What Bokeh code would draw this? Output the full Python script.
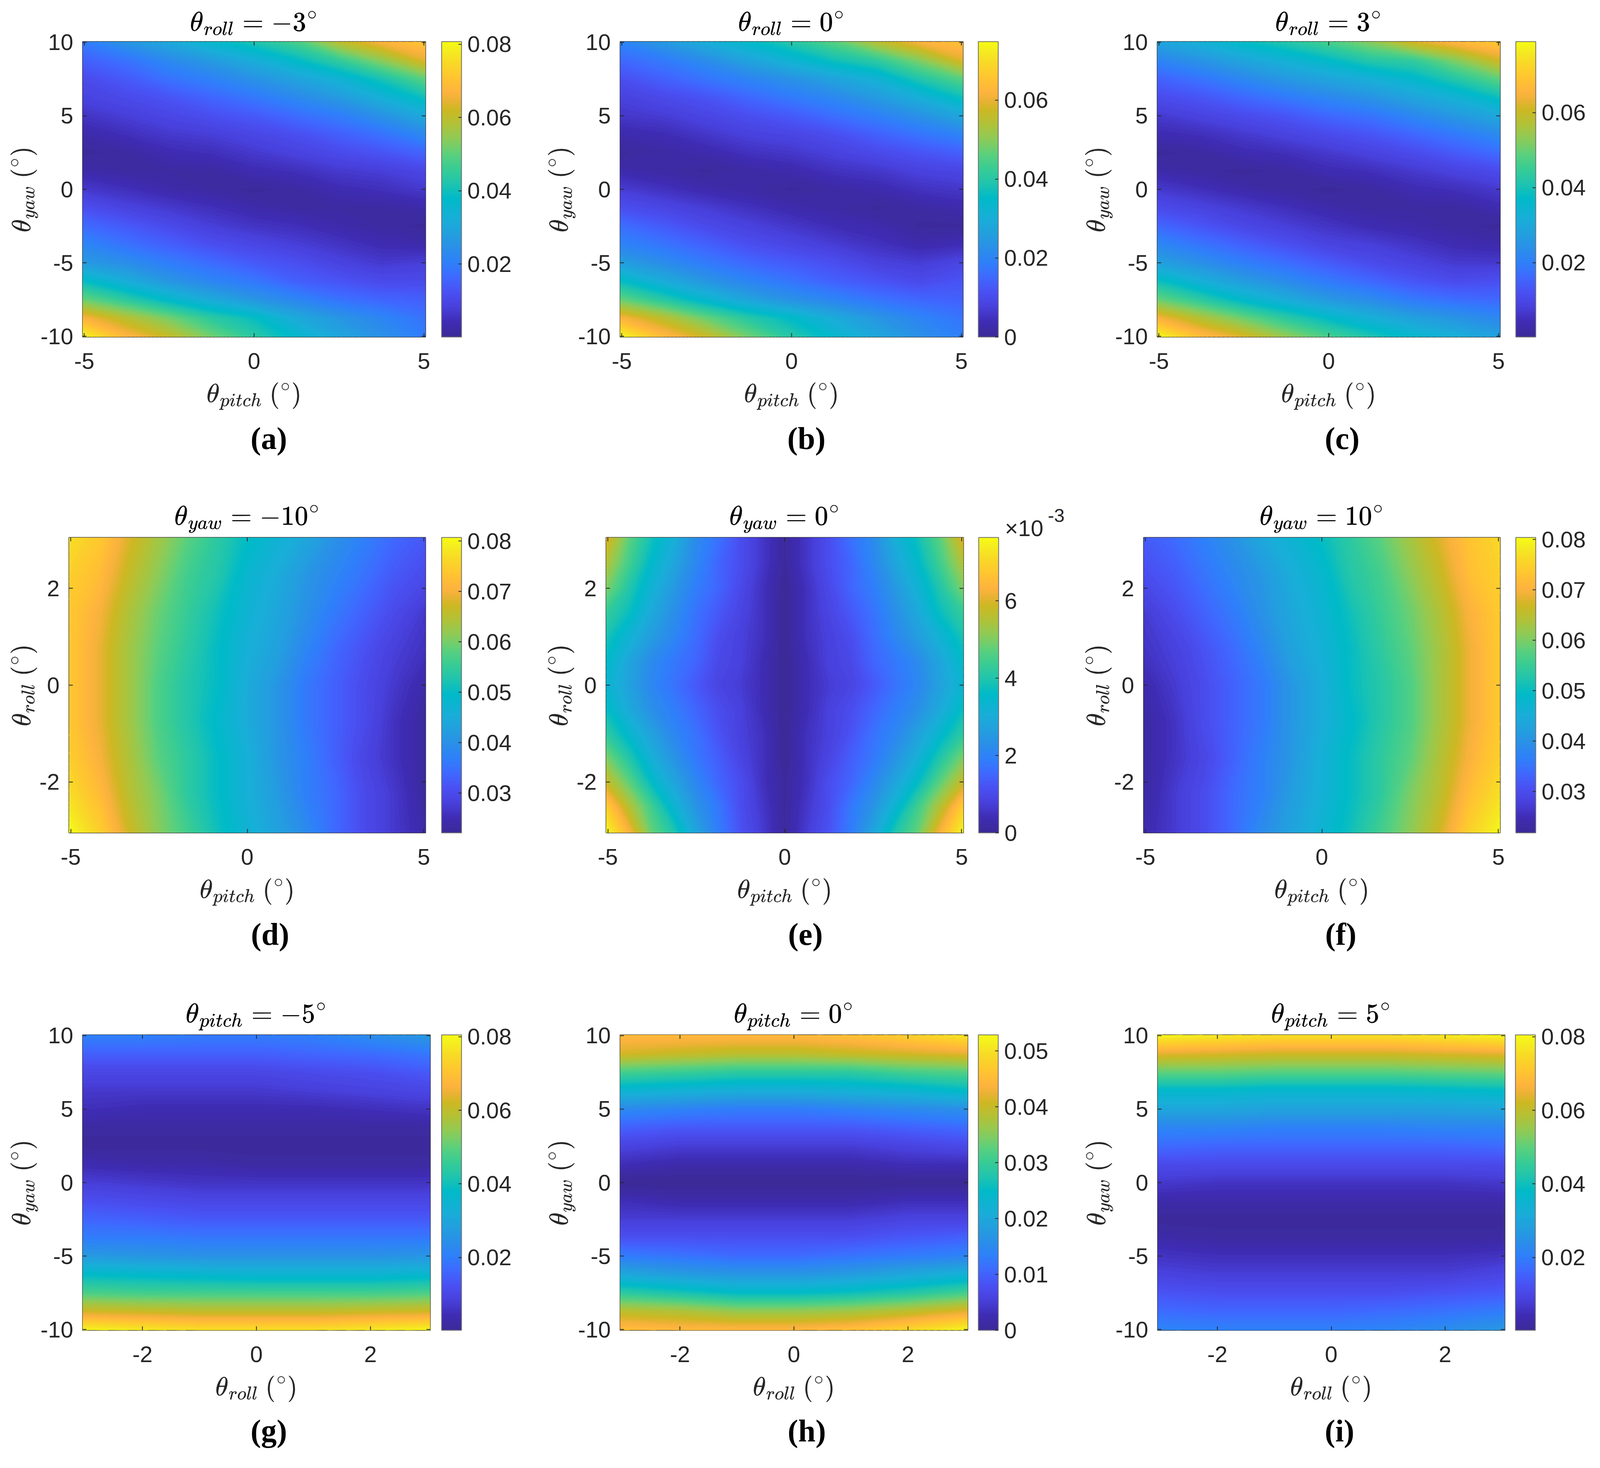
import numpy as np
from bokeh.embed import file_html
from bokeh.layouts import column, row
from bokeh.models import ColorBar, FixedTicker, Label, LinearColorMapper, Range1d, Title
from bokeh.plotting import figure
from bokeh.resources import INLINE

# --- grids the maps were read on (degrees), first and last point sit on the frame edge ---
pitch_9 = [-5.05, -3.75, -2.5, -1.25, 0, 1.25, 2.5, 3.75, 5.05]
pitch_13 = [-5.05, -4.1667, -3.3333, -2.5, -1.6667, -0.8333, 0, 0.8333, 1.6667, 2.5, 3.3333, 4.1667, 5.05]
pitch_17 = [-5.05, -4.375, -3.75, -3.125, -2.5, -1.875, -1.25, -0.625, 0, 0.625, 1.25, 1.875, 2.5, 3.125, 3.75, 4.375, 5.05]
roll_7 = [-3.05, -2, -1, 0, 1, 2, 3.05]
roll_9 = [3.05, 2.25, 1.5, 0.75, 0, -0.75, -1.5, -2.25, -3.05]
roll_13 = [3.05, 2.5, 2, 1.5, 1, 0.5, 0, -0.5, -1, -1.5, -2, -2.5, -3.05]
yaw_17 = [10.05, 8.75, 7.5, 6.25, 5, 3.75, 2.5, 1.25, 0, -1.25, -2.5, -3.75, -5, -6.25, -7.5, -8.75, -10.05]

# --- map values in units of 1e-3, rows top to bottom ---
map_a = [
    [20, 26, 31, 37, 42, 48, 60, 67, 71],
    [15, 18, 23, 27, 32, 38, 45, 54, 64],
    [11, 14, 18, 21, 25, 29, 34, 41, 50],
    [9, 11, 13, 16, 19, 23, 27, 33, 40],
    [6, 8, 10, 12, 14, 17, 20, 25, 31],
    [3, 5, 7, 8, 10, 12, 15, 18, 23],
    [1, 2, 4, 5, 7, 9, 11, 13, 16],
    [3, 2, 2, 2, 4, 5, 7, 8, 10],
    [7, 5, 3, 2, 1, 2, 4, 5, 7],
    [12, 9, 7, 5, 3, 2, 2, 2, 3],
    [17, 14, 11, 8, 6, 5, 3, 2, 1],
    [22, 18, 15, 12, 10, 8, 6, 4, 3],
    [27, 24, 20, 17, 14, 12, 9, 7, 8],
    [39, 32, 26, 22, 19, 15, 13, 11, 11],
    [51, 44, 37, 31, 26, 22, 18, 16, 15],
    [67, 59, 52, 44, 39, 31, 26, 22, 18],
    [80, 68, 61, 52, 44, 37, 30, 25, 20],
]
map_b = [
    [20, 25, 30, 35, 40, 46, 55, 62, 65],
    [15, 18, 22, 27, 32, 37, 41, 49, 59],
    [11, 14, 17, 20, 23, 27, 31, 39, 46],
    [8, 10, 12, 15, 18, 21, 25, 30, 37],
    [6, 7, 9, 11, 13, 16, 19, 23, 28],
    [3, 4, 6, 8, 9, 11, 14, 17, 20],
    [1, 2, 3, 5, 6, 8, 10, 12, 14],
    [3, 2, 1, 2, 3, 5, 6, 8, 9],
    [7, 5, 3, 2, 1, 2, 3, 5, 6],
    [11, 9, 7, 5, 3, 2, 1, 2, 3],
    [16, 13, 10, 8, 6, 4, 3, 1, 1],
    [20, 17, 14, 11, 9, 7, 5, 3, 4],
    [26, 22, 18, 15, 13, 11, 8, 7, 9],
    [36, 29, 24, 20, 17, 14, 12, 10, 12],
    [47, 40, 33, 27, 23, 20, 17, 15, 14],
    [62, 55, 47, 40, 35, 29, 24, 20, 17],
    [75, 64, 57, 48, 40, 34, 28, 23, 19],
]
map_c = [
    [29, 33, 38, 42, 47, 53, 62, 67, 70],
    [21, 25, 29, 33, 37, 42, 44, 52, 61],
    [15, 18, 22, 26, 29, 32, 36, 42, 49],
    [11, 13, 16, 19, 22, 25, 29, 33, 39],
    [7, 9, 11, 13, 16, 18, 22, 26, 30],
    [4, 5, 7, 9, 11, 13, 16, 19, 23],
    [1, 2, 4, 5, 7, 9, 11, 14, 17],
    [3, 2, 1, 2, 4, 5, 7, 9, 11],
    [7, 5, 3, 2, 1, 2, 4, 5, 7],
    [11, 9, 7, 5, 3, 2, 2, 2, 4],
    [16, 13, 10, 8, 6, 4, 3, 2, 1],
    [22, 18, 15, 12, 9, 8, 6, 4, 3],
    [28, 24, 20, 17, 14, 11, 9, 7, 7],
    [39, 32, 27, 23, 19, 16, 13, 11, 12],
    [50, 43, 36, 31, 26, 23, 19, 17, 16],
    [65, 57, 50, 43, 37, 32, 28, 25, 22],
    [79, 68, 62, 54, 47, 41, 36, 32, 28],
]
map_d = [
    [77, 74, 68, 63, 58, 54, 50, 47, 44, 40, 37, 34, 32],
    [75, 72, 66, 61, 56, 53, 48, 45, 41, 38, 35, 32, 30],
    [74, 70, 64, 59, 55, 51, 47, 44, 40, 36, 33, 30, 27],
    [74, 69, 63, 58, 54, 50, 46, 43, 38, 34, 31, 28, 26],
    [74, 69, 63, 57, 53, 50, 45, 41, 36, 33, 30, 27, 24],
    [74, 69, 63, 57, 53, 49, 45, 41, 36, 33, 30, 26, 23],
    [75, 70, 64, 58, 54, 50, 46, 41, 37, 33, 29, 26, 23],
    [77, 72, 65, 60, 54, 50, 46, 42, 37, 34, 30, 27, 23],
    [81, 75, 67, 61, 56, 51, 47, 43, 39, 34, 30, 27, 24],
]
map_e = [
    [6.1, 4.7, 3.8, 3.1, 2.2, 1.7, 1.1, 0.6, 0.1, 0.6, 1.1, 1.7, 2.2, 3.1, 3.8, 4.7, 6.1],
    [5.5, 4.4, 3.5, 2.8, 2.1, 1.5, 1.1, 0.6, 0.1, 0.6, 1.1, 1.5, 2.1, 2.8, 3.5, 4.4, 5.5],
    [5.0, 4.0, 3.2, 2.5, 1.9, 1.5, 1.0, 0.5, 0.0, 0.5, 1.0, 1.5, 1.9, 2.5, 3.2, 4.0, 5.0],
    [4.3, 3.7, 2.9, 2.3, 1.7, 1.3, 0.9, 0.5, 0.0, 0.5, 0.9, 1.3, 1.7, 2.3, 2.9, 3.7, 4.3],
    [3.9, 3.2, 2.6, 2.1, 1.6, 1.1, 0.8, 0.5, 0.0, 0.5, 0.8, 1.1, 1.6, 2.1, 2.6, 3.2, 3.9],
    [3.6, 2.8, 2.2, 1.8, 1.5, 1.0, 0.8, 0.4, 0.0, 0.4, 0.8, 1.0, 1.5, 1.8, 2.2, 2.8, 3.6],
    [3.4, 2.7, 2.1, 1.7, 1.3, 0.9, 0.7, 0.4, 0.0, 0.4, 0.7, 0.9, 1.3, 1.7, 2.1, 2.7, 3.4],
    [3.7, 2.9, 2.3, 1.9, 1.5, 1.1, 0.8, 0.4, 0.0, 0.4, 0.8, 1.1, 1.5, 1.9, 2.3, 2.9, 3.7],
    [4.2, 3.4, 2.7, 2.1, 1.7, 1.2, 0.8, 0.5, 0.0, 0.5, 0.8, 1.2, 1.7, 2.1, 2.7, 3.4, 4.2],
    [5.0, 4.0, 3.1, 2.4, 1.8, 1.4, 0.9, 0.5, 0.0, 0.5, 0.9, 1.4, 1.8, 2.4, 3.1, 4.0, 5.0],
    [5.8, 4.7, 3.6, 2.8, 2.1, 1.5, 1.1, 0.5, 0.1, 0.5, 1.1, 1.5, 2.1, 2.8, 3.6, 4.7, 5.8],
    [6.9, 5.5, 4.4, 3.3, 2.4, 1.8, 1.1, 0.6, 0.1, 0.6, 1.1, 1.8, 2.4, 3.3, 4.4, 5.5, 6.9],
    [7.6, 6.3, 4.8, 4.0, 2.8, 1.9, 1.2, 0.7, 0.1, 0.7, 1.2, 1.9, 2.8, 4.0, 4.8, 6.3, 7.6],
]
map_f = [
    [32, 34, 37, 40, 44, 47, 50, 54, 58, 63, 68, 73, 76],
    [30, 32, 35, 38, 41, 45, 48, 53, 56, 61, 66, 72, 75],
    [27, 30, 33, 36, 40, 44, 47, 51, 55, 59, 64, 70, 74],
    [26, 28, 31, 34, 38, 43, 46, 50, 54, 58, 63, 69, 74],
    [24, 27, 30, 33, 36, 41, 45, 50, 53, 57, 63, 69, 74],
    [23, 26, 30, 33, 36, 41, 45, 49, 53, 57, 63, 69, 74],
    [23, 26, 29, 33, 37, 41, 46, 50, 54, 58, 64, 70, 75],
    [23, 27, 30, 34, 37, 42, 46, 50, 54, 60, 65, 72, 77],
    [24, 27, 30, 34, 39, 43, 47, 51, 56, 61, 67, 75, 80],
]
map_g = [
    [21, 21, 20, 20, 21, 24, 27],
    [15, 15, 15, 15, 16, 17, 19],
    [10, 10, 10, 10, 11, 12, 14],
    [7, 7, 7, 7, 8, 9, 10],
    [5, 4, 4, 4, 4, 5, 6],
    [2, 2, 2, 2, 2, 2, 2],
    [1, 1, 1, 1, 1, 1, 1],
    [4, 3, 3, 2, 2, 2, 2],
    [8, 7, 6, 6, 6, 6, 6],
    [12, 11, 10, 10, 10, 10, 10],
    [16, 15, 14, 14, 14, 14, 14],
    [20, 20, 19, 19, 19, 19, 19],
    [27, 26, 25, 25, 25, 25, 26],
    [38, 37, 36, 35, 35, 35, 36],
    [48, 47, 47, 47, 47, 47, 48],
    [62, 61, 60, 60, 60, 61, 62],
    [80, 78, 76, 76, 76, 78, 80],
]
map_h = [
    [45, 45, 45, 45, 46, 48, 51],
    [41, 40, 39, 39, 40, 41, 42],
    [31, 30, 29, 29, 29, 31, 32],
    [23, 22, 21, 21, 22, 23, 25],
    [15, 14, 13, 13, 14, 15, 16],
    [10, 9, 9, 9, 9, 10, 11],
    [6, 5, 5, 5, 5, 6, 7],
    [3, 2, 2, 2, 2, 3, 3],
    [0, 0, 0, 0, 0, 0, 0],
    [3, 2, 2, 2, 2, 3, 3],
    [5, 5, 5, 5, 5, 6, 6],
    [8, 8, 8, 8, 8, 9, 10],
    [13, 12, 11, 11, 12, 13, 14],
    [20, 18, 17, 17, 18, 20, 22],
    [29, 27, 25, 25, 26, 28, 31],
    [39, 38, 36, 36, 37, 39, 42],
    [46, 45, 45, 45, 46, 49, 53],
]
map_i = [
    [80, 78, 76, 76, 76, 78, 80],
    [64, 63, 62, 62, 62, 63, 64],
    [50, 50, 49, 49, 49, 50, 51],
    [37, 37, 36, 36, 36, 37, 38],
    [30, 30, 29, 29, 29, 29, 30],
    [22, 22, 21, 21, 21, 22, 22],
    [17, 16, 16, 16, 16, 16, 17],
    [11, 11, 11, 11, 11, 11, 11],
    [7, 6, 6, 6, 6, 6, 7],
    [3, 3, 3, 3, 3, 3, 3],
    [1, 1, 1, 1, 1, 1, 1],
    [3, 2, 2, 2, 2, 2, 2],
    [6, 5, 5, 5, 5, 5, 6],
    [9, 8, 8, 8, 8, 8, 10],
    [13, 12, 12, 12, 12, 13, 14],
    [17, 16, 16, 16, 17, 18, 20],
    [22, 21, 21, 21, 22, 24, 27],
]

# colour limits and colourbar ticks, same units
clims = dict(a=(0.1, 80.7), b=(0, 74.8), c=(0.2, 78.9), d=(22.1, 80.7), e=(0, 7.64), f=(21.8, 80.4),
             g=(0.2, 80.5), h=(0, 52.9), i=(0.2, 80.5))
cbar_ticks = dict(a=[20, 40, 60, 80], b=[0, 20, 40, 60], c=[20, 40, 60], d=[30, 40, 50, 60, 70, 80],
                  e=[0, 2, 4, 6], f=[30, 40, 50, 60, 70, 80], g=[20, 40, 60, 80],
                  h=[0, 10, 20, 30, 40, 50], i=[20, 40, 60, 80])

# parula as it looks in this figure
stops = [0, .05, .10, .15, .20, .25, .30, .35, .40, .47, .52, .57, .62, .67, .72, .77, .80, .83, .88, .93, .97, 1]
stop_colors = ["#3b2a98", "#3f2cb4", "#4840dc", "#4a50f2", "#3f68ff", "#2f7ffa", "#2a8fe8", "#22a0de", "#18aed8",
               "#00bac8", "#1fc4ae", "#38cc94", "#5cd07c", "#8ccb58", "#b0c238", "#cdb822", "#e8b233", "#feb33e",
               "#ffc530", "#f8d926", "#f5ec20", "#f6fb14"]
rgb = np.array([[int(c[i:i + 2], 16) for i in (1, 3, 5)] for c in stop_colors])
palette = ["#%02x%02x%02x" % tuple(int(round(np.interp(v, stops, rgb[:, k]))) for k in range(3))
           for v in np.linspace(0, 1, 256)]

# the browser photo comes back 4096 wide, so squeeze the layout a bit in x
SX = 0.956
SY = 0.998
N_LEVELS = 121
TICK_FONT = "Liberation Sans"
DARK = "#262626"
PITCH = r"$$\theta_{pitch}\ (^\circ)$$"
ROLL = r"$$\theta_{roll}\ (^\circ)$$"
YAW = r"$$\theta_{yaw}\ (^\circ)$$"


def panel(name, values, xs, ys, xticks, yticks, xlabel, ylabel, title,
          left, frame_w, right, top, frame_h, bottom, gap, tag_x):
    left, frame_w, right = round(left * SX), round(frame_w * SX), round(right * SX)
    top, frame_h, bottom = round(top * SY), round(frame_h * SY), round(bottom * SY)
    xlim = max(xs)
    ylim = max(ys)
    p = figure(width=left + frame_w + right, height=top + frame_h + bottom,
               x_range=Range1d(-xlim, xlim), y_range=Range1d(-ylim, ylim),
               output_backend="svg", toolbar_location=None,
               min_border_left=left, min_border_right=right, min_border_top=top, min_border_bottom=bottom,
               background_fill_color="white", border_fill_color="white")
    p.grid.visible = False
    p.outline_line_color = DARK
    p.outline_line_width = 2

    # many thin contour bands so the map reads as continuous
    low, high = clims[name]
    arr = np.clip(np.flipud(np.array(values, dtype=float)), low + 1e-4 * (high - low), high - 1e-4 * (high - low))
    levels = np.linspace(low, high, N_LEVELS)
    band_colors = [palette[int(round(k))] for k in np.linspace(0, 255, N_LEVELS - 1)]
    line_colors = [palette[int(round(k))] for k in np.linspace(0, 255, N_LEVELS)]
    p.contour(sorted(xs), sorted(ys), arr, levels, fill_color=band_colors, line_color=line_colors, line_width=1.5)

    p.title.text = title
    p.title.align = "center"
    p.title.text_font_size = "60px"
    p.title.text_font_style = "normal"
    p.title.text_color = "black"
    p.title.standoff = 23

    for ax, ticks, label in ((p.xaxis[0], xticks, xlabel), (p.yaxis[0], yticks, ylabel)):
        ax.ticker = FixedTicker(ticks=ticks)
        ax.major_label_overrides = {v: str(v) for v in ticks}  # plain hyphen, as matlab prints it
        ax.axis_label = label
        ax.axis_label_text_font_size = "57px"
        ax.axis_label_text_color = DARK
        ax.major_label_text_font = TICK_FONT
        ax.major_label_text_font_size = "58px"
        ax.major_label_text_color = DARK
        ax.major_tick_in = 10
        ax.major_tick_out = 0
        ax.minor_tick_line_color = None
        ax.major_tick_line_color = DARK
        ax.major_tick_line_width = 2
        ax.axis_line_color = None
    p.xaxis[0].major_label_standoff = 41
    p.yaxis[0].major_label_standoff = 24
    p.xaxis[0].axis_label_standoff = 32
    p.yaxis[0].axis_label_standoff = 3

    # matlab box: same ticks on the top and right edges
    tick_x = 2 * xlim * 10 / frame_w
    tick_y = 2 * ylim * 10 / frame_h
    p.segment(x0=xticks, y0=[ylim] * len(xticks), x1=xticks, y1=[ylim - tick_y] * len(xticks),
              line_color=DARK, line_width=2)
    p.segment(x0=[xlim] * len(yticks), y0=yticks, x1=[xlim - tick_x] * len(yticks), y1=yticks,
              line_color=DARK, line_width=2)

    mapper = LinearColorMapper(palette=palette, low=low, high=high)
    labels = {v: (str(v) if name == "e" else f"{v / 1000:g}") for v in cbar_ticks[name]}
    cb = ColorBar(color_mapper=mapper, ticker=FixedTicker(ticks=cbar_ticks[name]), major_label_overrides=labels,
                  width=round(53 * SX), height=frame_h, padding=0, margin=0, location=(round(gap * SX), 0),
                  label_standoff=15,
                  major_label_text_font=TICK_FONT, major_label_text_font_size="58px", major_label_text_color=DARK,
                  major_tick_in=8, major_tick_line_color=DARK, major_tick_line_width=2,
                  minor_tick_line_color=None, bar_line_color="#6e6e6e", bar_line_width=2,
                  border_line_color=None, background_fill_color=None)
    p.add_layout(cb, "right")

    p.add_layout(Title(text="(%s)" % name, align="left", offset=round(tag_x * SX) - 40, standoff=49,
                       text_font="Liberation Serif", text_font_style="bold", text_font_size="80px",
                       text_color="black"), "below")
    return p


pa = panel("a", map_a, pitch_9, yaw_17, [-5, 0, 5], [-10, -5, 0, 5, 10], PITCH, YAW,
           r"$$\theta_{roll} = -3^\circ$$", 221, 918, 293, 106, 758, 381, 43, 492)
pb = panel("b", map_b, pitch_9, yaw_17, [-5, 0, 5], [-10, -5, 0, 5, 10], PITCH, YAW,
           r"$$\theta_{roll} = 0^\circ$$", 228, 918, 314, 106, 758, 381, 41, 490)
pc = panel("c", map_c, pitch_9, yaw_17, [-5, 0, 5], [-10, -5, 0, 5, 10], PITCH, YAW,
           r"$$\theta_{roll} = 3^\circ$$", 206, 918, 251, 106, 758, 381, 42, 491)
pd = panel("d", map_d, pitch_13, roll_9, [-5, 0, 5], [-2, 0, 2], PITCH, ROLL,
           r"$$\theta_{yaw} = -10^\circ$$", 184, 955, 293, 133, 758, 376, 43, 529)
pe = panel("e", map_e, pitch_17, roll_13, [-5, 0, 5], [-2, 0, 2], PITCH, ROLL,
           r"$$\theta_{yaw} = 0^\circ$$", 190, 957, 313, 133, 758, 376, 41, 529)
pf = panel("f", map_f, pitch_13, roll_9, [-5, 0, 5], [-2, 0, 2], PITCH, ROLL,
           r"$$\theta_{yaw} = 10^\circ$$", 169, 955, 251, 133, 758, 376, 42, 528)
pg = panel("g", map_g, roll_7, yaw_17, [-2, 0, 2], [-10, -5, 0, 5, 10], ROLL, YAW,
           r"$$\theta_{pitch} = -5^\circ$$", 221, 931, 280, 142, 758, 330, 30, 492)
ph = panel("h", map_h, roll_7, yaw_17, [-2, 0, 2], [-10, -5, 0, 5, 10], ROLL, YAW,
           r"$$\theta_{pitch} = 0^\circ$$", 228, 931, 301, 142, 758, 330, 28, 491)
pi = panel("i", map_i, roll_7, yaw_17, [-2, 0, 2], [-10, -5, 0, 5, 10], ROLL, YAW,
           r"$$\theta_{pitch} = 5^\circ$$", 207, 930, 238, 142, 758, 330, 28, 490)

# scale factor above the colourbar of (e), in the right side panel next to the bar
pe.add_layout(Label(x=-34, y=780, x_units="screen", y_units="screen", text="×10", text_font=TICK_FONT,
                    text_font_size="58px", text_color=DARK, text_baseline="alphabetic"), "right")
pe.add_layout(Label(x=-22, y=812, x_units="screen", y_units="screen", text="-3", text_font=TICK_FONT,
                    text_font_size="48px", text_color=DARK, text_baseline="alphabetic"), "right")

page = column(row(pa, pb, pc, spacing=0), row(pd, pe, pf, spacing=0), row(pg, ph, pi, spacing=0), spacing=0)
open("out.html", "w").write(file_html(page, INLINE))
